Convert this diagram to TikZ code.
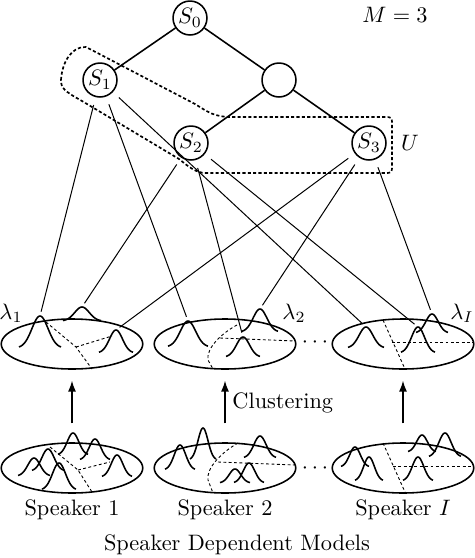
\documentclass[tikz,border=0pt]{standalone}
\usetikzlibrary{arrows.meta,shapes.geometric}
\newcommand{\gss}[5]{%
  \coordinate (#1) at (#2,#3-#5);
  \draw[gs] plot[domain=-1:1,samples=41,smooth] ({#2+#4*\x},{#3-#5*exp(-3.4*\x*\x)});}
\begin{document}
\begin{tikzpicture}[x=0.448pt,y=-0.448pt,
  tnode/.style={draw,circle,line width=0.7pt,minimum size=15.2pt,inner sep=0pt},
  tedge/.style={line width=0.7pt},
  conn/.style={line width=0.45pt,shorten <=3.6pt,shorten >=2pt},
  gs/.style={line width=0.7pt},
  part/.style={line width=0.4pt,dash pattern=on 1.3pt off 1.1pt},
  ureg/.style={line width=0.75pt,dash pattern=on 1.4pt off 1pt},
  ell/.style={draw,ellipse,line width=0.7pt,minimum width=63.4pt,minimum height=22.4pt,inner sep=0pt},
  arr/.style={line width=0.7pt,-{Latex[length=5pt,width=3.6pt]},shorten <=8.4pt,shorten >=4.8pt},
  lbl/.style={inner sep=0pt}]
\useasboundingbox (0,0) rectangle (474,558);
% tree
\node[tnode] (S0) at (190,18) {$S_0$};
\node[tnode] (S1) at (100,80) {$S_1$};
\node[tnode] (N)  at (279,80) {};
\node[tnode] (S2) at (191,143) {$S_2$};
\node[tnode] (S3) at (369,143) {$S_3$};
\draw[tedge] (S0) -- (S1);
\draw[tedge] (S0) -- (N);
\draw[tedge] (N) -- (S2);
\draw[tedge] (N) -- (S3);
\node[lbl] (M) at (395,15) {$M=3$};
\node[lbl] (U) at (410,143) {$U$};
% U region
\draw[ureg] (61,80) .. controls (62,62) and (72,46) .. (86,47)
  -- (195,104) .. controls (208,112) and (214,117) .. (232,117)
  -- (384,117) .. controls (392,117) and (392,117) .. (392,125)
  -- (392,165) .. controls (392,173) and (392,173) .. (384,173)
  -- (206,173) .. controls (196,173) and (189,167) .. (179,159)
  -- (82,101) .. controls (64,91) and (61,88) .. (61,80) -- cycle;
% top ellipses
\node[ell] (t1) at (72,344) {};
\node[ell] (t2) at (225,344) {};
\node[ell] (t3) at (403,344) {};
\node[lbl] (l1) at (11,313) {$\lambda_1$};
\node[lbl] (l2) at (294,313) {$\lambda_2$};
\node[lbl] (lI) at (462,313) {$\lambda_I$};
\node[lbl] (d1) at (315,343) {$\cdots$};
% gaussians top 1
\gss{pA}{40}{348}{21}{32}
\gss{pB}{82}{321}{19}{14}
\gss{pC}{116}{353}{17}{23}
\draw[part] (46,322) -- (76,347) -- (92,369);
\draw[part] (76,347) -- (112,336);
% top 2
\gss{pD}{188}{347}{20}{26}
\gss{pE}{243}{357}{17}{20}
\gss{pF}{260}{332}{18}{23}
\draw[part] (237,325) .. controls (222,333) and (206,348) .. (208,360) -- (213,369);
\draw[part] (220,338) -- (295,341);
% top 3
\gss{pG}{366}{348}{18}{21}
\gss{pH}{418}{353}{17}{26}
\gss{pJ}{432}{333}{16}{19}
\draw[part] (383,320) -- (405,369);
\draw[part] (392,342) -- (473,342);
% connectors
\draw[conn] (S1) -- (pA);
\draw[conn] (S1) -- (pD);
\draw[conn] (S1) -- (pG);
\draw[conn] (S2) -- (pB);
\draw[conn] (S2) -- (pE);
\draw[conn] (S2) -- (pH);
\draw[conn] (S3) -- (pC);
\draw[conn] (S3) -- (pF);
\draw[conn] (S3) -- (pJ);
% bottom ellipses
\node[ell] (b1) at (72,468) {};
\node[ell] (b2) at (225,468) {};
\node[ell] (b3) at (403,468) {};
\node[lbl] (d2) at (315,469) {$\cdots$};
% bottom 1
\gss{q1}{34}{476}{16}{18}
\gss{q2}{48}{471}{16}{22}
\gss{q3}{73}{455}{15}{22}
\gss{q4}{95}{460}{15}{21}
\gss{q5}{59}{490}{17}{27}
\gss{q6}{117}{477}{15}{22}
\draw[part] (50,447) -- (78,470) -- (92,492);
\draw[part] (78,470) -- (110,462);
% bottom 2
\gss{r1}{180}{470}{15}{25}
\gss{r2}{203}{460}{13}{32}
\gss{r3}{260}{458}{16}{22}
\gss{r4}{235}{483}{15}{14}
\gss{r5}{249}{483}{15}{20}
\draw[part] (238,443) .. controls (222,452) and (206,468) .. (208,480) -- (213,493);
\draw[part] (218,462) -- (295,465);
% bottom 3
\gss{s1}{355}{467}{14}{20}
\gss{s2}{369}{481}{14}{24}
\gss{s3}{422}{452}{14}{17}
\gss{s4}{445}{457}{16}{24}
\gss{s5}{418}{481}{15}{24}
\draw[part] (383,443) -- (405,492);
\draw[part] (393,466) -- (473,466);
% arrows
\draw[arr] (b1) -- (t1);
\draw[arr] (b2) -- (t2);
\draw[arr] (b3) -- (t3);
\node[lbl,anchor=west] (cl) at (232,403) {Clustering};
% labels
\node[lbl] (sp1) at (72,510) {Speaker 1};
\node[lbl] (sp2) at (225,510) {Speaker 2};
\node[lbl] (spI) at (403,510) {Speaker $I$};
\node[lbl] (sdm) at (237,545) {Speaker Dependent Models};
\end{tikzpicture}
\end{document}
